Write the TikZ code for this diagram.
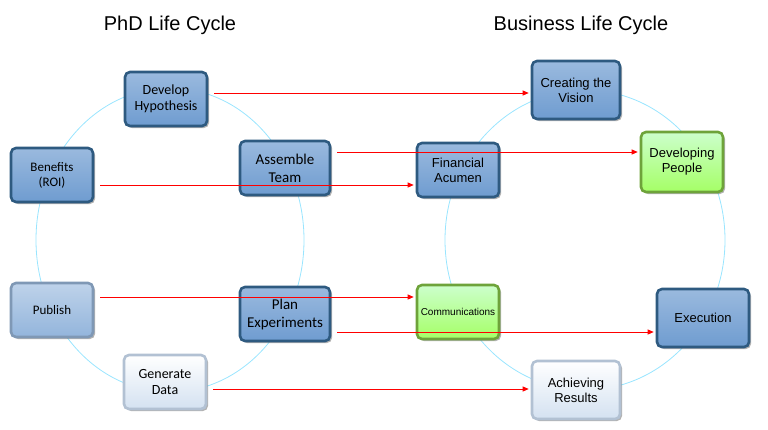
\documentclass[tikz,border=0pt]{standalone}
\usepackage{fontspec}
\setmainfont{Liberation Sans}
\newfontfamily\carl{Carlito}
\usetikzlibrary{arrows.meta,shadows}
\definecolor{bord}{HTML}{2E5A80}
\definecolor{bordl}{HTML}{7F98B5}
\definecolor{fillb}{HTML}{6F9CD0}
\definecolor{gbord}{HTML}{6EA33A}
\tikzset{x=1pt,y=-1pt,
 box/.style={draw=bord,line width=2.6pt,rounded corners=5pt,minimum width=82pt,minimum height=54pt,
   top color=fillb!70!white,bottom color=fillb,align=center,font=\fontsize{13}{15}\selectfont,
   drop shadow={shadow xshift=2pt,shadow yshift=-2pt,fill=black!60}},
 lbox/.style={box,draw=bordl,top color=fillb!45!white,bottom color=fillb!75!white},
 gbox/.style={box,draw=gbord,top color=green!20!white,bottom color=green!45!lime!60!white},
 ring/.style={draw=blue!25!cyan!40,line width=0.8pt},
 arr/.style={draw=red,line width=0.8pt,-{Triangle[length=6pt,width=5pt]},shorten <=6pt,shorten >=2pt},
 ttl/.style={font=\fontsize{20}{22}\selectfont}}
\begin{document}
\begin{tikzpicture}
\useasboundingbox (0,0) rectangle (768,429);
\draw[ring] (170,240) ellipse [x radius=134,y radius=152];
\draw[ring] (585,240) ellipse [x radius=140,y radius=150];
\node[ttl] (t1) at (170,25) {PhD Life Cycle};
\node[ttl] (t2) at (581,25) {Business Life Cycle};
\node[box,font=\carl\fontsize{14}{16}\selectfont] (dh) at (166,99) {Develop\\Hypothesis};
\node[box,font=\carl\fontsize{13}{15}\selectfont] (be) at (52,175) {Benefits\\(ROI)};
\node[box,font=\carl\fontsize{15}{18}\selectfont,minimum width=90pt] (at) at (285,168) {Assemble\\Team};
\node[lbox,font=\carl\fontsize{13}{15}\selectfont] (pu) at (52,310) {Publish};
\node[box,font=\carl\fontsize{15}{18}\selectfont,minimum width=90pt] (pe) at (285,314) {Plan\\Experiments};
\node[lbox,font=\carl\fontsize{14}{16}\selectfont,draw=bordl!60,top color=white,bottom color=fillb!30!white] (gd) at (165,382) {Generate\\Data};
\node[box,minimum width=88pt,minimum height=58pt] (cv) at (576,90) {Creating the\\Vision};
\node[box] (fa) at (458,170) {Financial\\Acumen};
\node[gbox,minimum height=60pt] (dp) at (682,162) {Developing\\People};
\node[gbox,font=\fontsize{10}{12}\selectfont] (co) at (458,312) {Communications};
\node[box,minimum width=92pt,minimum height=58pt] (ex) at (703,318) {Execution};
\node[lbox,draw=bordl!60,top color=white,bottom color=fillb!30!white,minimum width=88pt,minimum height=58pt] (ar) at (576,390) {Achieving\\Results};
\draw[arr] ([yshift=6pt]dh.east) -- ([yshift=6pt]dh.east -| cv.west);
\draw[arr] ([yshift=16pt]at.east) -- ([yshift=16pt]at.east -| dp.west);
\draw[arr] ([yshift=-10pt]be.east) -- ([yshift=-10pt]be.east -| fa.west);
\draw[arr] ([yshift=13pt]pu.east) -- ([yshift=13pt]pu.east -| co.west);
\draw[arr] ([yshift=-18pt]pe.east) -- ([yshift=-18pt]pe.east -| ex.west);
\draw[arr] ([yshift=-7pt]gd.east) -- ([yshift=-7pt]gd.east -| ar.west);
\end{tikzpicture}
\end{document}
